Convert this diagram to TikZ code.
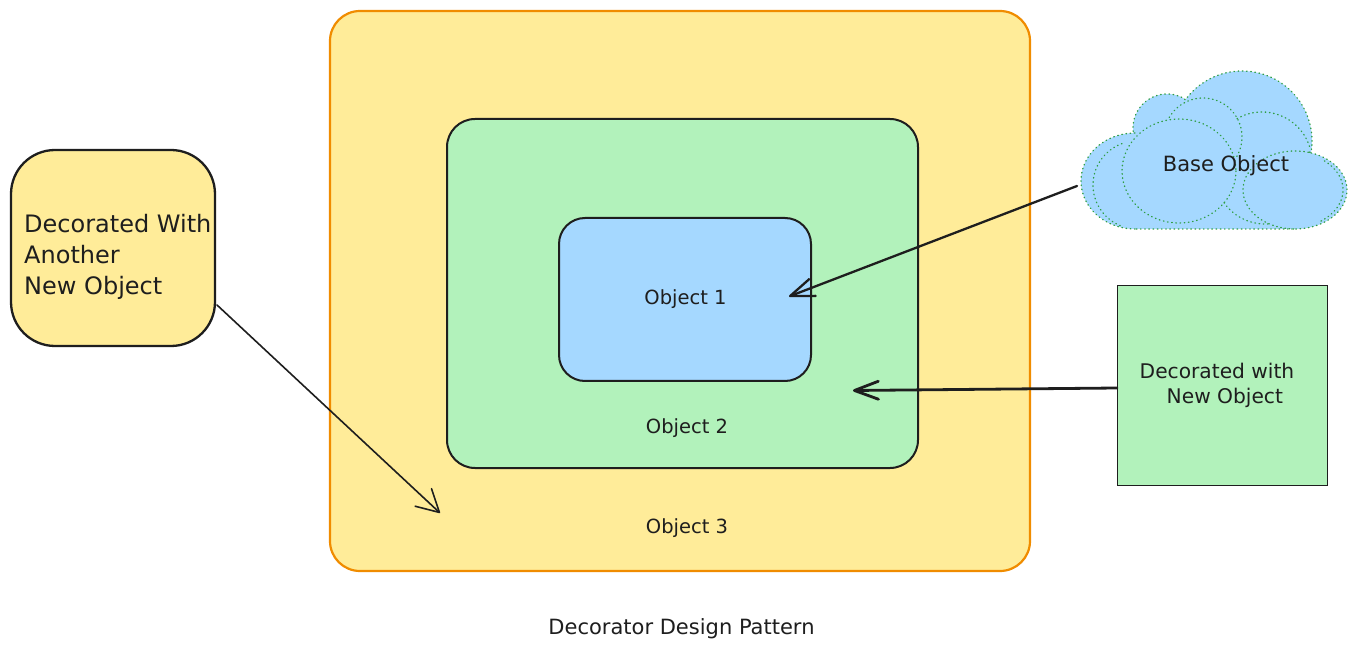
\documentclass[tikz,border=0pt]{standalone}
\usepackage{fontspec}
\setmainfont{DejaVu Sans}
\usetikzlibrary{arrows.meta,calc}
\definecolor{ink}{HTML}{1E1E1E}
\definecolor{paleyellow}{HTML}{FFEC99}
\definecolor{palegreen}{HTML}{B2F2BB}
\definecolor{paleblue}{HTML}{A5D8FF}
\definecolor{edgeorange}{HTML}{F08C00}
\definecolor{edgegreen}{HTML}{2F9E44}
\tikzset{
  box/.style={draw=ink,line width=2pt,inner sep=0pt,outer sep=0pt},
  label/.style={text=ink,inner sep=0pt,font=\fontsize{19.5}{24}\selectfont},
  con/.style={draw=ink,line cap=round},
  cloudline/.style={draw=edgegreen,line width=1.3pt,dash pattern=on 0.6pt off 3.6pt,line cap=round},
  arcplot/.style={samples=40,smooth}
}
\newcommand{\sizedbox}[6]{\node[box,#1,minimum width=#4 pt,minimum height=#5 pt,#6] (#2) at #3 {};}
\newcommand{\earc}[6]{\draw[cloudline] plot[arcplot,domain=#5:#6] ({#1+#3*cos(\x)},{#2+#4*sin(\x)});}
\newcommand{\cloudoutline}[1]{\path[#1]
  plot[arcplot,domain=90:270] ({1135+54*cos(\x)},{181+48*sin(\x)})
  -- plot[arcplot,domain=171:300] ({1167+34*cos(\x)},{128+34*sin(\x)})
  -- plot[arcplot,domain=216:369] ({1242+70*cos(\x)},{141+70*sin(\x)})
  -- plot[arcplot,domain=285:450] ({1295+52*cos(\x)},{190+39*sin(\x)})
  -- cycle;}
\begin{document}
\begin{tikzpicture}[x=1pt,y=-1pt]
\useasboundingbox (0,0) rectangle (1358,652);
\fill[white] (0,0) rectangle (1358,652);
% boxes
\sizedbox{fill=paleyellow,draw=edgeorange,line width=2.2pt,rounded corners=30pt}{objthree}{(680,291)}{700}{560}{}
\sizedbox{fill=palegreen,rounded corners=28pt}{objtwo}{(682.5,293.5)}{471}{349}{}
\sizedbox{fill=paleblue,rounded corners=26pt}{objone}{(685,299.5)}{252}{163}{}
\sizedbox{fill=paleyellow,line width=2.3pt,rounded corners=44pt}{leftbox}{(113,248)}{204}{196}{}
\sizedbox{fill=palegreen,line width=1pt}{rightbox}{(1222,385.5)}{210}{199}{}
% cloud
\cloudoutline{fill=paleblue}
\cloudoutline{cloudline}
\earc{1179}{171}{57}{52}{0}{360}
\earc{1137}{185}{44}{44}{250}{110}
\earc{1203}{137}{39}{39}{210}{395}
\earc{1262}{162}{50}{50}{240}{345}
\earc{1265}{174}{50}{50}{145}{85}
\earc{1295}{190}{52}{39}{285}{90}
\earc{1291}{190}{52}{38}{-50}{55}
% labels
\node[label,font=\fontsize{21}{24}\selectfont] (cloudlabel) at (1226,166) {Base Object};
\node[label] (labelone) at (685.5,299.5) {Object 1};
\node[label] (labeltwo) at (687,428.5) {Object 2};
\node[label] (labelthree) at (687,528.5) {Object 3};
\node[label,font=\fontsize{21}{24}\selectfont] (caption) at (681.5,629) {Decorator Design Pattern};
\node[label,anchor=west,align=left,font=\fontsize{24}{31}\selectfont] (leftlabel) at (24,257) {Decorated With\\Another\\New Object};
\node[label,font=\fontsize{20.2}{25}\selectfont,align=left] (rightlabel) at (1217,385.5) {Decorated with\\\hspace{27pt}New Object};
% connector ends
\coordinate (cloudedge) at (1077,186);
\coordinate (tipone) at ($(objone.east)+(-22,-3)$);
\coordinate (tiptwo) at ($(objtwo.east)+(-65,97)$);
\coordinate (leftexit) at ($(leftbox.east)+(2,57)$);
\coordinate (tipthree) at ($(objthree.south west)+(110,-58)$);
\coordinate (rightexit) at ($(rightbox.west)+(0,2.5)$);
% connectors
\draw[con,line width=2.3pt,-{Straight Barb[round,length=24pt,width=18pt]}] (cloudedge) -- (tipone);
\draw[con,line width=2.8pt,-{Straight Barb[round,length=24pt,width=18pt]}] (rightexit) -- (tiptwo);
\draw[con,line width=1.6pt,-{Straight Barb[round,length=22pt,width=24pt]}] (leftexit) -- (tipthree);
\end{tikzpicture}
\end{document}
